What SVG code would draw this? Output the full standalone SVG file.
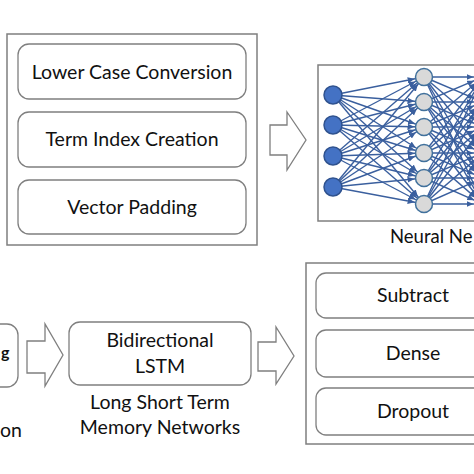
<svg xmlns="http://www.w3.org/2000/svg" width="474" height="474" viewBox="0 0 474 474">
<defs>
<style>
.frame{fill:#fff;stroke:#7f7f7f;stroke-width:1.5}
.box{fill:#fff;stroke:#7f7f7f;stroke-width:1.3}
.arrow{fill:#fff;stroke:#7f7f7f;stroke-width:1.3}
.t{font-family:Lato,"Liberation Sans",sans-serif;font-size:19.5px;fill:#111;text-anchor:middle}
.e{stroke:#3a5f9e;stroke-width:1.4;fill:none;marker-end:url(#ah)}
.in{fill:#4472c4;stroke:#2f528f;stroke-width:1.5}
.hid{fill:#d9d9d9;stroke:#41719c;stroke-width:1.5}
</style>
<marker id="ah" markerUnits="userSpaceOnUse" markerWidth="20" markerHeight="8" refX="16.5" refY="3" orient="auto">
<path d="M0,0 L7,3 L0,6 z" fill="#3a5f9e"/>
</marker>
</defs>
<rect width="474" height="474" fill="#fff"/>

<g id="preprocessing">
<rect class="frame" x="7" y="34" width="250" height="211"/>
<g id="lower-case"><rect class="box" x="18" y="44" width="228" height="55" rx="11"/><text class="t" x="132" y="79">Lower Case Conversion</text></g>
<g id="term-index"><rect class="box" x="18" y="112" width="228" height="55" rx="11"/><text class="t" x="132" y="146">Term Index Creation</text></g>
<g id="vector-padding"><rect class="box" x="18" y="180" width="228" height="54" rx="11"/><text class="t" x="132" y="214">Vector Padding</text></g>
</g>

<g id="neural-network">
<rect class="frame" x="318" y="65" width="170" height="156"/>
<g id="nn-edges">
<line class="e" x1="333" y1="95" x2="424" y2="77"/><line class="e" x1="333" y1="95" x2="424" y2="102"/><line class="e" x1="333" y1="95" x2="424" y2="127"/><line class="e" x1="333" y1="95" x2="424" y2="153"/><line class="e" x1="333" y1="95" x2="424" y2="178"/><line class="e" x1="333" y1="95" x2="424" y2="204"/>
<line class="e" x1="333" y1="125" x2="424" y2="77"/><line class="e" x1="333" y1="125" x2="424" y2="102"/><line class="e" x1="333" y1="125" x2="424" y2="127"/><line class="e" x1="333" y1="125" x2="424" y2="153"/><line class="e" x1="333" y1="125" x2="424" y2="178"/><line class="e" x1="333" y1="125" x2="424" y2="204"/>
<line class="e" x1="333" y1="156" x2="424" y2="77"/><line class="e" x1="333" y1="156" x2="424" y2="102"/><line class="e" x1="333" y1="156" x2="424" y2="127"/><line class="e" x1="333" y1="156" x2="424" y2="153"/><line class="e" x1="333" y1="156" x2="424" y2="178"/><line class="e" x1="333" y1="156" x2="424" y2="204"/>
<line class="e" x1="333" y1="187" x2="424" y2="77"/><line class="e" x1="333" y1="187" x2="424" y2="102"/><line class="e" x1="333" y1="187" x2="424" y2="127"/><line class="e" x1="333" y1="187" x2="424" y2="153"/><line class="e" x1="333" y1="187" x2="424" y2="178"/><line class="e" x1="333" y1="187" x2="424" y2="204"/>
<line class="e" x1="424" y1="77" x2="483" y2="77"/><line class="e" x1="424" y1="77" x2="483" y2="102"/><line class="e" x1="424" y1="77" x2="483" y2="127"/><line class="e" x1="424" y1="77" x2="483" y2="153"/><line class="e" x1="424" y1="77" x2="483" y2="178"/><line class="e" x1="424" y1="77" x2="483" y2="204"/>
<line class="e" x1="424" y1="102" x2="483" y2="77"/><line class="e" x1="424" y1="102" x2="483" y2="102"/><line class="e" x1="424" y1="102" x2="483" y2="127"/><line class="e" x1="424" y1="102" x2="483" y2="153"/><line class="e" x1="424" y1="102" x2="483" y2="178"/><line class="e" x1="424" y1="102" x2="483" y2="204"/>
<line class="e" x1="424" y1="127" x2="483" y2="77"/><line class="e" x1="424" y1="127" x2="483" y2="102"/><line class="e" x1="424" y1="127" x2="483" y2="127"/><line class="e" x1="424" y1="127" x2="483" y2="153"/><line class="e" x1="424" y1="127" x2="483" y2="178"/><line class="e" x1="424" y1="127" x2="483" y2="204"/>
<line class="e" x1="424" y1="153" x2="483" y2="77"/><line class="e" x1="424" y1="153" x2="483" y2="102"/><line class="e" x1="424" y1="153" x2="483" y2="127"/><line class="e" x1="424" y1="153" x2="483" y2="153"/><line class="e" x1="424" y1="153" x2="483" y2="178"/><line class="e" x1="424" y1="153" x2="483" y2="204"/>
<line class="e" x1="424" y1="178" x2="483" y2="77"/><line class="e" x1="424" y1="178" x2="483" y2="102"/><line class="e" x1="424" y1="178" x2="483" y2="127"/><line class="e" x1="424" y1="178" x2="483" y2="153"/><line class="e" x1="424" y1="178" x2="483" y2="178"/><line class="e" x1="424" y1="178" x2="483" y2="204"/>
<line class="e" x1="424" y1="204" x2="483" y2="77"/><line class="e" x1="424" y1="204" x2="483" y2="102"/><line class="e" x1="424" y1="204" x2="483" y2="127"/><line class="e" x1="424" y1="204" x2="483" y2="153"/><line class="e" x1="424" y1="204" x2="483" y2="178"/><line class="e" x1="424" y1="204" x2="483" y2="204"/>
</g>
<g id="nn-nodes">
<circle class="in" cx="333" cy="95" r="9"/><circle class="in" cx="333" cy="125" r="9"/><circle class="in" cx="333" cy="156" r="9"/><circle class="in" cx="333" cy="187" r="9"/>
<circle class="hid" cx="424" cy="77" r="8.5"/><circle class="hid" cx="424" cy="102" r="8.5"/><circle class="hid" cx="424" cy="127" r="8.5"/><circle class="hid" cx="424" cy="153" r="8.5"/><circle class="hid" cx="424" cy="178" r="8.5"/><circle class="hid" cx="424" cy="204" r="8.5"/>
</g>
<text class="t" x="390" y="243" style="text-anchor:start;font-size:18.5px">Neural Ne</text>
</g>

<g id="cut-node">
<rect class="box" x="-40" y="324" width="58" height="63" rx="11"/>
<text class="t" x="1" y="358" style="text-anchor:start;font-weight:bold;font-size:16px">g</text>
<text class="t" x="0" y="437" style="text-anchor:start">on</text>
</g>

<g id="bilstm">
<rect class="box" x="69" y="322" width="182" height="63" rx="11"/>
<text class="t" x="160" y="347">Bidirectional</text>
<text class="t" x="160" y="373">LSTM</text>
<text class="t" x="160" y="409">Long Short Term</text>
<text class="t" x="160" y="434">Memory Networks</text>
</g>

<g id="layers">
<rect class="frame" x="306" y="263" width="190" height="181"/>
<g id="subtract"><rect class="box" x="316" y="273" width="180" height="45" rx="10"/><text class="t" x="413" y="302">Subtract</text></g>
<g id="dense"><rect class="box" x="316" y="330" width="180" height="47" rx="10"/><text class="t" x="413" y="360">Dense</text></g>
<g id="dropout"><rect class="box" x="316" y="388" width="180" height="47" rx="10"/><text class="t" x="413" y="418">Dropout</text></g>
</g>

<g id="connectors">
<path class="arrow" d="M270,125 H287 V112 L306,140 L287,170 V155 H270 Z"/>
<path class="arrow" d="M27,341 H45 V324 L63,355 L45,386 V373 H27 Z"/>
<path class="arrow" d="M258,342 H276 V327 L294,356 L276,384 V371 H258 Z"/>
</g>
</svg>
